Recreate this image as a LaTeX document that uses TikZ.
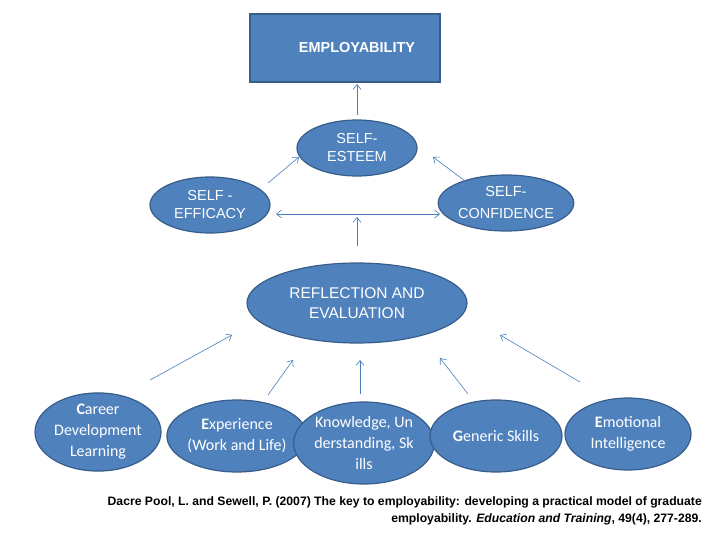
\documentclass[tikz,border=0pt]{standalone}
\usepackage{fontspec}
\setmainfont{Liberation Sans}
\newfontfamily\calfnt{Carlito}
\usetikzlibrary{shapes.geometric,arrows.meta}
\definecolor{bfill}{HTML}{4F81BD}
\definecolor{bdraw}{HTML}{385D8A}
\definecolor{arr}{HTML}{4A7EBB}
\begin{document}
\begin{tikzpicture}[x=1pt,y=-1pt,
  ell/.style={ellipse,fill=bfill,draw=bdraw,line width=1.2pt,text=white,align=center,inner sep=0pt,font=\fontsize{14.5}{18}\selectfont},
  bell/.style={ell,font=\calfnt\fontsize{16}{21}\selectfont},
  ar/.style={draw=arr,line width=0.6pt,-{Straight Barb[length=5pt,width=8pt]}}]
\useasboundingbox (0,0) rectangle (728,546);
\node[draw=bdraw,fill=bfill,line width=1.2pt,minimum width=190pt,minimum height=68pt,inner sep=0pt] (emp) at (345,48) {};
\node[text=white,font=\bfseries\fontsize{14.5}{17}\selectfont] (empt) at (357,48) {EMPLOYABILITY};
\node[ell,minimum width=120pt,minimum height=56pt] (est) at (357,148) {SELF-\\ESTEEM};
\node[ell,minimum width=120pt,minimum height=56pt] (eff) at (210,205) {SELF -\\EFFICACY};
\node[ell,minimum width=112pt,minimum height=56pt] (con) at (506,203) {\raisebox{4pt}{SELF-}\\CONFIDENCE};
\node[ell,minimum width=220pt,minimum height=80pt,font=\fontsize{15.5}{20}\selectfont] (ref) at (357,303) {REFLECTION AND\\EVALUATION};
\node[bell,minimum width=126pt,minimum height=74pt] (car) at (98,432) {\textbf{C}areer\\Development\\Learning};
\node[bell,minimum width=132pt,minimum height=72pt] (exp) at (237,436) {\textbf{E}xperience\\(Work and Life)};
\node[bell,minimum width=132pt,minimum height=82pt] (kno) at (364,443) {Knowledge, Un\\derstanding, Sk\\ills};
\node[bell,minimum width=132pt,minimum height=72pt] (gen) at (496,436) {\textbf{G}eneric Skills};
\node[bell,minimum width=126pt,minimum height=72pt] (emo) at (628,434) {\textbf{E}motional\\Intelligence};
\coordinate (a1) at (357,115); \coordinate (a1e) at (357,84);
\draw[ar] (a1) -- (a1e);
\coordinate (b1) at (268,183); \coordinate (b1e) at (299,157);
\draw[ar] (b1) -- (b1e);
\coordinate (c1) at (465,181); \coordinate (c1e) at (433,157);
\draw[ar] (c1) -- (c1e);
\coordinate (dl) at (276,214); \coordinate (dr) at (440,214);
\draw[ar,{Straight Barb[length=5pt,width=8pt]}-{Straight Barb[length=5pt,width=8pt]}] (dl) -- (dr);
\coordinate (e1) at (357,246); \coordinate (e1e) at (357,217);
\draw[ar] (e1) -- (e1e);
\coordinate (f1) at (150,380); \coordinate (f1e) at (232,335);
\draw[ar] (f1) -- (f1e);
\coordinate (f2) at (268,395); \coordinate (f2e) at (293,360);
\draw[ar] (f2) -- (f2e);
\coordinate (f3) at (360,394); \coordinate (f3e) at (360,360);
\draw[ar] (f3) -- (f3e);
\coordinate (f4) at (468,394); \coordinate (f4e) at (440,358);
\draw[ar] (f4) -- (f4e);
\coordinate (f5) at (580,382); \coordinate (f5e) at (500,335);
\draw[ar] (f5) -- (f5e);
\node[align=right,anchor=north east,inner sep=0pt,font=\bfseries\fontsize{12.2}{17}\selectfont] (cit) at (702,496) {Dacre Pool, L. and Sewell, P. (2007) The key to employability: developing a practical model of graduate\\employability. \textit{Education and Training}, 49(4), 277-289.};
\end{tikzpicture}
\end{document}
